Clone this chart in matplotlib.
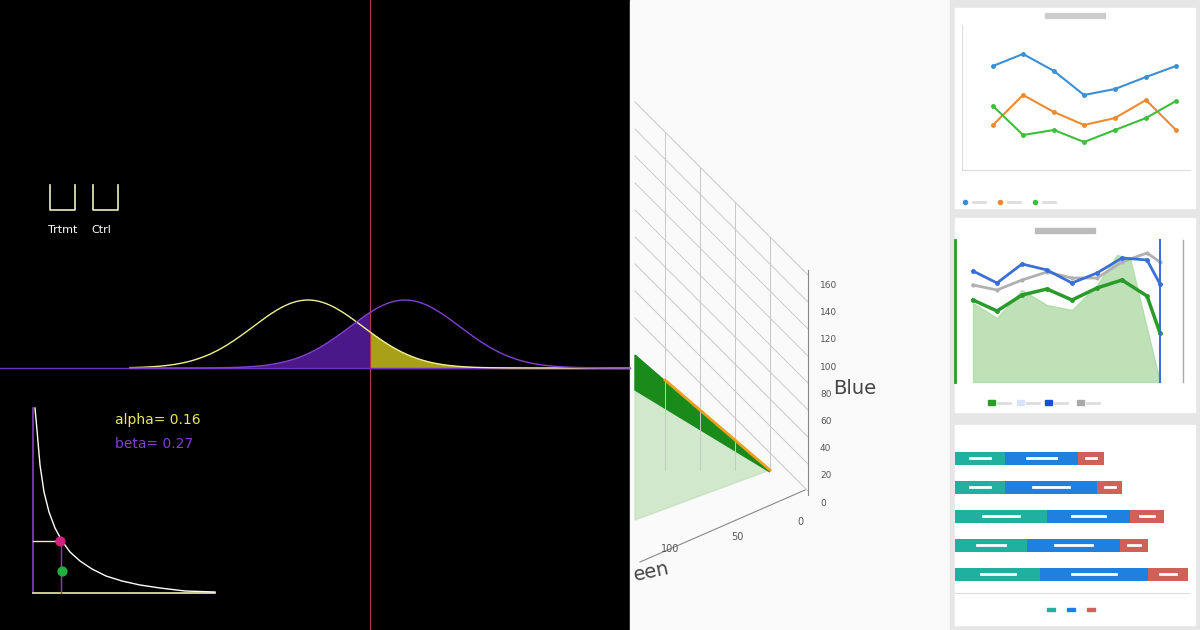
import numpy as np
import matplotlib.pyplot as plt
from matplotlib.patches import Rectangle, Polygon

# ---- left panel: power / error curves (pixel coordinates) ----
baseline_y = 368
crit_x = 370
trt_mean, ctrl_mean, sd, peak_h = 308, 405, 55, 68
decay_x = [35, 37, 40, 44, 49, 55, 62, 70, 80, 92, 106, 122, 140, 160, 185, 215]
decay_y = [408, 430, 465, 492, 512, 528, 541, 552, 561, 569, 576, 581, 585, 588, 591, 592]
alpha_txt = "alpha= 0.16"
beta_txt = "beta= 0.27"

# ---- middle panel: 3D scatter axis labels ----
blue_ticks = [0, 20, 40, 60, 80, 100, 120, 140, 160]
green_ticks = [0, 50, 100]

# ---- right panel: line chart ----
line_x = [993, 1023, 1054, 1084, 1115, 1146, 1176]
line_blue = [66, 54, 71, 95, 89, 77, 66]
line_orange = [125, 95, 112, 125, 118, 100, 130]
line_green = [106, 135, 130, 142, 130, 118, 101]

# ---- right panel: combo chart ----
combo_x = [973, 997, 1022, 1047, 1072, 1097, 1122, 1147, 1160]
combo_green = [300, 311, 295, 289, 300, 288, 280, 296, 333]
combo_blue = [271, 283, 264, 270, 283, 273, 258, 260, 284]
combo_gray = [285, 290, 280, 272, 278, 278, 262, 253, 262]
area_x = [973, 997, 1022, 1047, 1072, 1097, 1117, 1130, 1160]
area_top = [303, 318, 290, 305, 310, 285, 255, 258, 382]

# ---- right panel: stacked bars ----
bar_rows = [458, 487, 516, 545, 574]
bar_teal = [50, 50, 92, 72, 85]
bar_blue = [73, 92, 83, 93, 108]
bar_red = [26, 25, 34, 28, 40]

fig = plt.figure(figsize=(12, 6.3), dpi=100)
ax = fig.add_axes([0, 0, 1, 1])
ax.set_xlim(0, 1200)
ax.set_ylim(630, 0)
ax.axis("off")

# left black background
ax.add_patch(Rectangle((0, 0), 630, 630, color="black", zorder=0))
ax.plot([crit_x, crit_x], [0, 630], color="#c0304a", lw=0.8)
ax.plot([0, 630], [baseline_y, baseline_y], color="#7030c0", lw=1)

xs = np.linspace(130, 630, 400)
trt = baseline_y - peak_h * np.exp(-0.5 * ((xs - trt_mean) / sd) ** 2)
ctrl = baseline_y - peak_h * np.exp(-0.5 * ((xs - ctrl_mean) / sd) ** 2)
ax.fill_between(xs, baseline_y, ctrl, where=xs <= crit_x, color="#4a1888")
ax.fill_between(xs, baseline_y, trt, where=xs >= crit_x, color="#a8a018")
ax.plot(xs, trt, color="#f0f090", lw=1)
ax.plot(xs, ctrl, color="#8040d0", lw=1)

# cup icons
for cx, lab in [(50, "Trtmt"), (93, "Ctrl")]:
    ax.plot([cx, cx, cx + 25, cx + 25], [185, 210, 210, 185], color="#f0f0c0", lw=1.2)
    ax.text(cx - 2, 230, lab, color="white", fontsize=8, va="center")

# lower decay plot
ax.plot([33, 33], [408, 593], color="#8040d0", lw=1.2)
ax.plot([33, 215], [593, 593], color="#f0f0a0", lw=1.2)
ax.plot(decay_x, decay_y, color="white", lw=1)
ax.plot([33, 60], [541, 541], color="#f0f0a0", lw=1)
ax.plot([61, 61], [541, 593], color="#8040d0", lw=1)
ax.scatter([60], [541], s=40, color="#d02080", zorder=5)
ax.scatter([62], [571], s=40, color="#20b040", zorder=5)
ax.text(115, 420, alpha_txt, color="#e8e860", fontsize=10, va="center")
ax.text(115, 444, beta_txt, color="#8040d0", fontsize=10, va="center")

# ---- middle: 3D-like grid ----
ax.add_patch(Rectangle((630, 0), 320, 630, color="#fafafa", zorder=0))
slope = 1.0
for ry in np.arange(275, 495, 27):
    lx = 635
    ax.plot([lx, 808], [ry - (808 - lx) * slope, ry], color="#c8c8c8", lw=0.7)
for gx in [665, 700, 735, 770]:
    ax.plot([gx, gx], [275 - (808 - gx) * slope, 470], color="#c8c8c8", lw=0.7)
ax.plot([808, 808], [270, 495], color="#888888", lw=0.8)
ax.plot([805, 640], [490, 562], color="#888888", lw=0.8)
ax.add_patch(Polygon([[635, 380], [635, 520], [770, 470]], color="#b8dcb0", alpha=0.6))
ax.add_patch(Polygon([[635, 355], [635, 390], [770, 472]], color="#1a8a1a"))
ax.plot([665, 770], [380, 470], color="#f0a020", lw=2)
for i, t in enumerate(blue_ticks):
    ax.text(820, 503 - i * 27.2, str(t), fontsize=6.5, color="#555555", va="center")
ax.text(833, 388, "Blue", fontsize=14, color="#444444", va="center")
for t, (tx, ty) in zip(green_ticks, [(800, 522), (737, 537), (670, 549)]):
    ax.text(tx, ty, str(t), fontsize=7, color="#555555", ha="center", va="center")
ax.text(632, 572, "een", fontsize=14, color="#444444", va="center", rotation=12)

# ---- right: cards ----
ax.add_patch(Rectangle((950, 0), 250, 630, color="#e6e6e6", zorder=0))
for y0, y1 in [(8, 208), (218, 412), (425, 625)]:
    ax.add_patch(Rectangle((955, y0), 240, y1 - y0, color="white", zorder=0.5))

# card 1: lines
ax.add_patch(Rectangle((1045, 13), 60, 5, color="#cccccc"))
ax.plot([962, 962, 1190], [25, 170, 170], color="#dddddd", lw=0.8)
for ys, c in [(line_blue, "#3b8fd4"), (line_orange, "#f08a30"), (line_green, "#3cc03c")]:
    ax.plot(line_x, ys, color=c, lw=1.5, marker="o", ms=2.5)
for lx, c in [(965, "#3b8fd4"), (1000, "#f08a30"), (1035, "#3cc03c")]:
    ax.plot([lx], [202], "o", color=c, ms=3)
    ax.plot([lx + 8, lx + 20], [202, 202], color="#dddddd", lw=2)

# card 2: combo
ax.add_patch(Rectangle((1035, 228), 60, 5, color="#bbbbbb"))
ax.fill_between(area_x, 382, area_top, color="#a8d8a0", alpha=0.75)
ax.plot(combo_x, combo_gray, color="#b0b0b0", lw=2, marker="o", ms=2)
ax.plot(combo_x, combo_blue, color="#3a6fd8", lw=2, marker="o", ms=2.5)
ax.plot(combo_x, combo_green, color="#2a9a2a", lw=2.5, marker="o", ms=2.5)
ax.plot([955, 955], [240, 382], color="#2a9a2a", lw=2)
ax.plot([1160, 1160], [240, 382], color="#3a6fd8", lw=1.5)
ax.plot([1183, 1183], [240, 382], color="#aaaaaa", lw=1)
for lx, c in [(988, "#2a9a2a"), (1017, "#d8e4f8"), (1045, "#1a50d0"), (1077, "#aaaaaa")]:
    ax.add_patch(Rectangle((lx, 400), 7, 5, color=c))
    ax.plot([lx + 10, lx + 22], [403, 403], color="#dddddd", lw=2)

# card 3: stacked bars
h = 13
for y, a, b, r in zip(bar_rows, bar_teal, bar_blue, bar_red):
    ax.barh(y, a, left=955, height=h, color="#20b0a0")
    ax.barh(y, b, left=955 + a, height=h, color="#2080e0")
    ax.barh(y, r, left=955 + a + b, height=h, color="#d06058")
    for seg_l, seg_w in [(955, a), (955 + a, b), (955 + a + b, r)]:
        cx = seg_l + seg_w / 2
        ax.plot([cx - seg_w * 0.2, cx + seg_w * 0.2], [y, y], color="white", lw=2)
ax.plot([955, 1190], [593, 593], color="#dddddd", lw=0.8)
for lx, c in [(1047, "#20b0a0"), (1067, "#2080e0"), (1087, "#d06058")]:
    ax.add_patch(Rectangle((lx, 608), 8, 3, color=c))

fig.savefig("out.png", dpi=100)
